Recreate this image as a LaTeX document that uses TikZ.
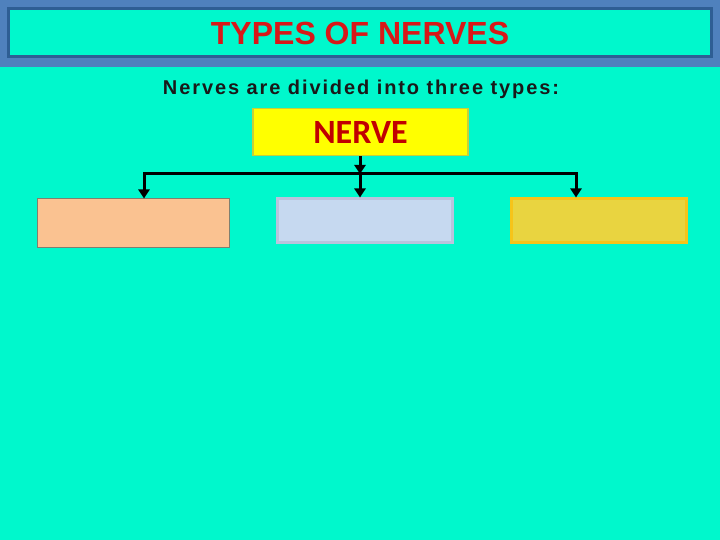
\documentclass[tikz,border=0pt]{standalone}
\usepackage{fontspec}
\setmainfont{Liberation Sans}
\newfontfamily\calibri{Carlito}
\usetikzlibrary{arrows.meta}
\definecolor{bgcyan}{HTML}{00F8CC}
\definecolor{framelight}{HTML}{4F81BD}
\definecolor{framedark}{HTML}{2E5E94}
\definecolor{titlered}{HTML}{D81818}
\definecolor{nervered}{HTML}{C00000}
\definecolor{nerveyellow}{HTML}{FFFF00}
\definecolor{nerveedge}{HTML}{C6CF3A}
\definecolor{peach}{HTML}{FAC291}
\definecolor{peachedge}{HTML}{7F7F6F}
\definecolor{lightblue}{HTML}{C6D9F0}
\definecolor{lightblueedge}{HTML}{B9C3DD}
\definecolor{gold}{HTML}{E9D440}
\definecolor{goldedge}{HTML}{F6C419}
\tikzset{
  conn/.style={line width=3pt, black},
  tip/.style={-{Triangle[length=9pt,width=11pt]}},
  typebox/.style={inner sep=0pt, anchor=north west}
}
\begin{document}
\begin{tikzpicture}[x=1pt,y=-1pt]
\useasboundingbox (0,0) rectangle (720,540);
\fill[bgcyan] (0,0) rectangle (720,540);
% title frame
\fill[framelight] (0,0) rectangle (720,67);
\draw[framedark, line width=3pt, fill=bgcyan] (8.5,8.5) rectangle (711.5,56.5);
\node[anchor=base, text=titlered, font=\bfseries\fontsize{32}{38}\selectfont, inner sep=0pt] (title) at (360,45) {TYPES OF NERVES};
% subtitle
\node[anchor=base, inner sep=0pt, text=black!90, font=\bfseries\fontsize{20}{24}\selectfont\addfontfeature{LetterSpace=9.5}] (sub) at (361,95) {Nerves are divided into three types:};
% root
\node[fill=nerveyellow, draw=nerveedge, line width=1.2pt, minimum width=215pt, minimum height=47pt, inner sep=0pt,
      text=nervered, font=\calibri\bfseries\fontsize{34}{40}\selectfont] (nerve) at (360.5,132.2) {NERVE};
% type boxes
\node[typebox, fill=peach, draw=peachedge, line width=0.8pt, minimum width=192pt, minimum height=48pt] (t1) at (36.5,198.5) {};
\node[typebox, fill=lightblue, draw=lightblueedge, line width=3pt, minimum width=175pt, minimum height=43.5pt] (t2) at (276,197.5) {};
\node[typebox, fill=gold, draw=goldedge, line width=3pt, minimum width=175pt, minimum height=43.5pt] (t3) at (510,197.5) {};
% connectors
\coordinate (split) at (360,174);
\coordinate (L) at (144,174);
\coordinate (R) at (576,174);
\draw[conn, tip] (nerve.south -| split) -- (split);
\draw[conn, line cap=rect] (L) -- (R);
\draw[conn, tip] (L) -- (L |- t1.north);
\draw[conn, tip] (split) -- (split |- t2.north);
\draw[conn, tip] (R) -- (R |- t3.north);
\end{tikzpicture}
\end{document}
